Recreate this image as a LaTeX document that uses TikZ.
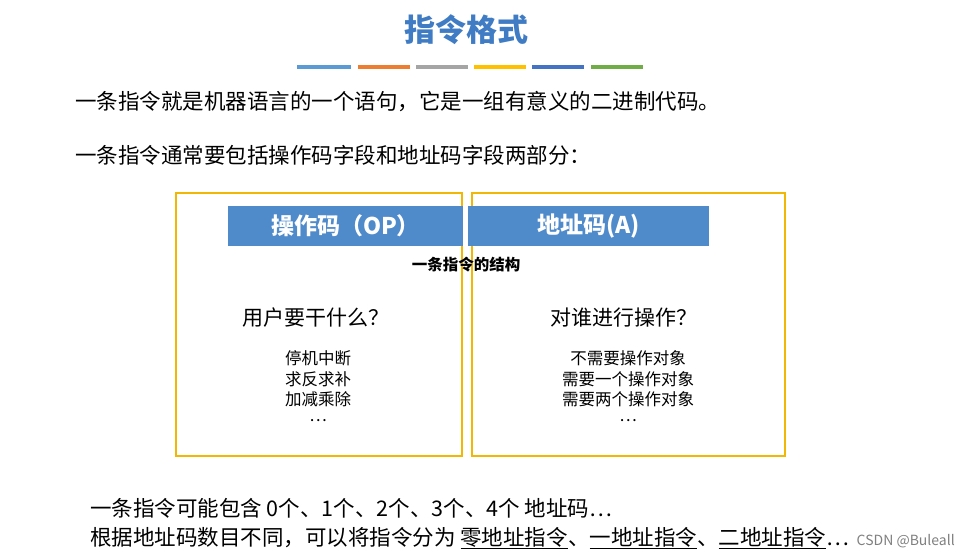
\documentclass[tikz,border=0pt]{standalone}
\usepackage{fontspec}
\setmainfont{Noto Sans CJK SC}
\begin{document}
\begin{tikzpicture}[x=1pt,y=-1pt,
  body/.style={anchor=west,inner sep=0pt,font=\fontsize{21.5}{24}\selectfont},
  small/.style={inner sep=0pt,font=\fontsize{16.5}{18}\selectfont},
  ques/.style={inner sep=0pt,font=\fontsize{21}{24}\selectfont},
  ybox/.style={draw=boxy,line width=2pt},
  bbar/.style={fill=barblue,draw=none,text=white,font=\fontsize{23}{26}\selectfont\bfseries}]
\definecolor{boxy}{HTML}{F2B705}
\definecolor{barblue}{HTML}{4F8ACB}
\definecolor{titleblue}{HTML}{3F7CC4}
\useasboundingbox[fill=white] (0,0) rectangle (959,559);
\node[font=\fontsize{31}{34}\selectfont\bfseries,text=titleblue] (title) at (466,30) {指令格式};
\foreach \a/\b/\c in {297/351/5B9BD5,358/410/ED7D31,416/468/A5A5A5,474/526/FFC000,532/584/4472C4,591/643/70AD47}{
  \definecolor{tmp}{HTML}{\c}\fill[tmp] (\a,65) rectangle (\b,69);}
\node[body] (l1) at (75,102) {一条指令就是机器语言的一个语句，它是一组有意义的二进制代码。};
\node[body] (l2) at (75,155) {一条指令通常要包括操作码字段和地址码字段两部分：};
\draw[ybox] (176,193) rectangle (462,456);
\draw[ybox] (472,193) rectangle (785,456);
\node[bbar,minimum width=235,minimum height=40] (op) at (345.5,226) {操作码（OP）};
\node[bbar,minimum width=241,minimum height=40] (ad) at (588.5,226) {地址码(A)};
\node[inner sep=0pt,font=\fontsize{15.5}{17}\selectfont\bfseries] (cap) at (466,265) {一条指令的结构};
\node[ques] (q1) at (316,318) {用户要干什么？};
\node[ques] (q2) at (624,318) {对谁进行操作？};
\node[small] (a1) at (318,358) {停机中断};
\node[small] (a2) at (318,379) {求反求补};
\node[small] (a3) at (318,399) {加减乘除};
\node[small] (a4) at (318,421) {…};
\node[small] (b1) at (628,358) {不需要操作对象};
\node[small] (b2) at (628,379) {需要一个操作对象};
\node[small] (b3) at (628,399) {需要两个操作对象};
\node[small] (b4) at (628,421) {…};
\node[body] (m1) at (90,508) {一条指令可能包含 0个、1个、2个、3个、4个 地址码…};
\node[body] (m2) at (90,538) {根据地址码数目不同，可以将指令分为 \underline{零地址指令}、\underline{一地址指令}、\underline{二地址指令}…};
\node[anchor=east,inner sep=0pt,text=gray,font=\fontsize{14}{16}\selectfont] (wm) at (955,541) {CSDN @Buleall};
\end{tikzpicture}
\end{document}
